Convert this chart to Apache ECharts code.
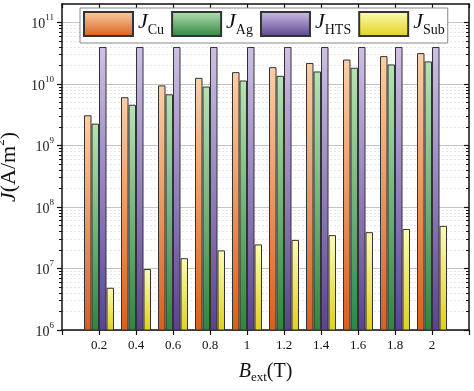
<!DOCTYPE html>
<html>
<head>
<meta charset="utf-8">
<script src="https://cdn.jsdelivr.net/npm/echarts@6/dist/echarts.min.js"></script>
<style>html,body{margin:0;padding:0;background:#fff}#c{width:474px;height:391px}</style>
</head>
<body>
<div id="c"></div>
<script>
const categories = ['0.2','0.4','0.6','0.8','1','1.2','1.4','1.6','1.8','2'];
const jCu  = [3.1e9, 6.1e9, 9.5e9, 1.26e10, 1.56e10, 1.88e10, 2.2e10, 2.5e10, 2.84e10, 3.18e10];
const jAg  = [2.27e9, 4.6e9, 6.8e9, 9.1e9, 1.14e10, 1.36e10, 1.6e10, 1.84e10, 2.08e10, 2.33e10];
const jHTS = [4.0e10, 4.0e10, 4.0e10, 4.0e10, 4.0e10, 4.0e10, 4.0e10, 4.0e10, 4.0e10, 4.0e10];
const jSub = [4.86e6, 9.8e6, 1.47e7, 1.97e7, 2.46e7, 2.92e7, 3.49e7, 3.9e7, 4.4e7, 4.93e7];
const seriesNames = ['Cu','Ag','HTS','Sub'];
const majorTicks = [1e6, 1e7, 1e8, 1e9, 1e10, 1e11];

const minorTicks = [];
for (let d = 6; d <= 10; d++) for (let m = 2; m <= 9; m++) minorTicks.push(m * Math.pow(10, d));

const axisCats = [''].concat(categories, ['']);
const pad = arr => [null].concat(arr, [null]);

const serif = 'Liberation Serif';
function grad(top, bottom) {
  return new echarts.graphic.LinearGradient(0, 0, 0, 1, [
    {offset: 0, color: top}, {offset: 1, color: bottom}
  ]);
}
const colors = [
  grad('#fbcfa6', '#d95f1c'),
  grad('#b6e3b4', '#2f8540'),
  grad('#cfc0e6', '#5a4290'),
  grad('#fcfcb4', '#e0d11c')
];
const data = [jCu, jAg, jHTS, jSub];

const chart = echarts.init(document.getElementById('c'), null, {renderer: 'canvas'});
const lineStyle = {color: '#111', width: 1.5};
const logBase = {type: 'log', logBase: 10, min: 1e6, max: 2e11};

chart.setOption({
  animation: false,
  backgroundColor: '#fff',
  textStyle: {fontFamily: serif},
  grid: {left: 62, top: 4, right: 5, bottom: 61, containLabel: false, outerBoundsMode: 'none'},
  legend: {
    left: 80, top: 8,
    icon: 'rect',
    itemWidth: 49, itemHeight: 24, itemGap: 7,
    padding: [3, 3, 6, 3],
    backgroundColor: '#fff', borderColor: '#888', borderWidth: 1,
    data: seriesNames,
    formatter: n => '{j|J}{s|' + n + '}',
    textStyle: {
      fontFamily: serif, color: '#111',
      rich: {
        j: {fontFamily: serif, fontStyle: 'italic', fontSize: 22, color: '#111', lineHeight: 26, verticalAlign: 'top'},
        s: {fontFamily: serif, fontSize: 14, color: '#111', lineHeight: 26, verticalAlign: 'top', padding: [12, 0, 0, 0]}
      }
    }
  },
  xAxis: [{
    type: 'category', data: axisCats, boundaryGap: false, position: 'bottom',
    axisLine: {lineStyle},
    axisTick: {length: 5, lineStyle: {color: '#111', width: 1.2}},
    axisLabel: {fontFamily: serif, fontSize: 13, color: '#111', margin: 9},
    splitLine: {show: false},
    name: '{i|B}{s|ext}{n|(T)}', nameLocation: 'middle', nameGap: 32,
    nameTextStyle: {rich: {
      i: {fontFamily: serif, fontStyle: 'italic', fontSize: 20, color: '#111', lineHeight: 24, verticalAlign: 'top'},
      s: {fontFamily: serif, fontSize: 13, color: '#111', lineHeight: 24, verticalAlign: 'top', padding: [9, 0, 0, 0]},
      n: {fontFamily: serif, fontSize: 20, color: '#111', lineHeight: 24, verticalAlign: 'top'}
    }}
  }, {
    type: 'category', data: axisCats, boundaryGap: false, position: 'top',
    axisLine: {lineStyle},
    axisTick: {inside: true, length: 4, lineStyle: {color: '#111', width: 1.2}},
    axisLabel: {show: false},
    splitLine: {show: false}
  }],
  yAxis: [Object.assign({}, logBase, {
    position: 'left',
    axisLine: {show: true, lineStyle},
    axisTick: {show: true, length: 5, customValues: majorTicks, lineStyle: {color: '#111', width: 1.2}},
    axisLabel: {
      customValues: majorTicks, margin: 8,
      formatter: v => '{b|10}{p|' + Math.round(Math.log10(v)) + '}',
      rich: {
        b: {fontFamily: serif, fontSize: 14, color: '#222', lineHeight: 18, verticalAlign: 'bottom'},
        p: {fontFamily: serif, fontSize: 9, color: '#222', lineHeight: 18, verticalAlign: 'top', padding: [0, 0, 6, 0]}
      }
    },
    splitLine: {show: true, lineStyle: {color: '#c4c4c4', width: 1}},
    name: '{i|J}{n|(A/m}{p|2}{n|)}', nameLocation: 'middle', nameGap: 32,
    nameTextStyle: {rich: {
      i: {fontFamily: serif, fontStyle: 'italic', fontSize: 22, color: '#111', lineHeight: 26, verticalAlign: 'bottom'},
      n: {fontFamily: serif, fontSize: 22, color: '#111', lineHeight: 26, verticalAlign: 'bottom'},
      p: {fontFamily: serif, fontSize: 13, color: '#111', lineHeight: 26, verticalAlign: 'top', padding: [0, 0, 9, 0]}
    }}
  }), Object.assign({}, logBase, {
    position: 'left',
    axisLine: {show: false},
    axisTick: {show: true, length: 3, customValues: minorTicks, lineStyle: {color: '#111', width: 1}},
    axisLabel: {show: false},
    splitLine: {show: true, lineStyle: {color: '#e0e0e0', width: 0.8, type: [2, 2]}}
  }), Object.assign({}, logBase, {
    position: 'right',
    axisLine: {show: true, lineStyle},
    axisTick: {show: true, inside: true, length: 5, customValues: majorTicks, lineStyle: {color: '#111', width: 1.2}},
    axisLabel: {show: false},
    splitLine: {show: false}
  }), Object.assign({}, logBase, {
    position: 'right',
    axisLine: {show: false},
    axisTick: {show: true, inside: true, length: 3, customValues: minorTicks, lineStyle: {color: '#111', width: 1}},
    axisLabel: {show: false},
    splitLine: {show: false}
  })],
  series: seriesNames.map((n, i) => ({
    name: n, type: 'bar', xAxisIndex: 0, yAxisIndex: 0,
    data: pad(data[i]),
    barWidth: 7.5, barGap: '0%',
    itemStyle: {color: colors[i], borderColor: '#333', borderWidth: 1}
  }))
});
</script>
</body>
</html>
